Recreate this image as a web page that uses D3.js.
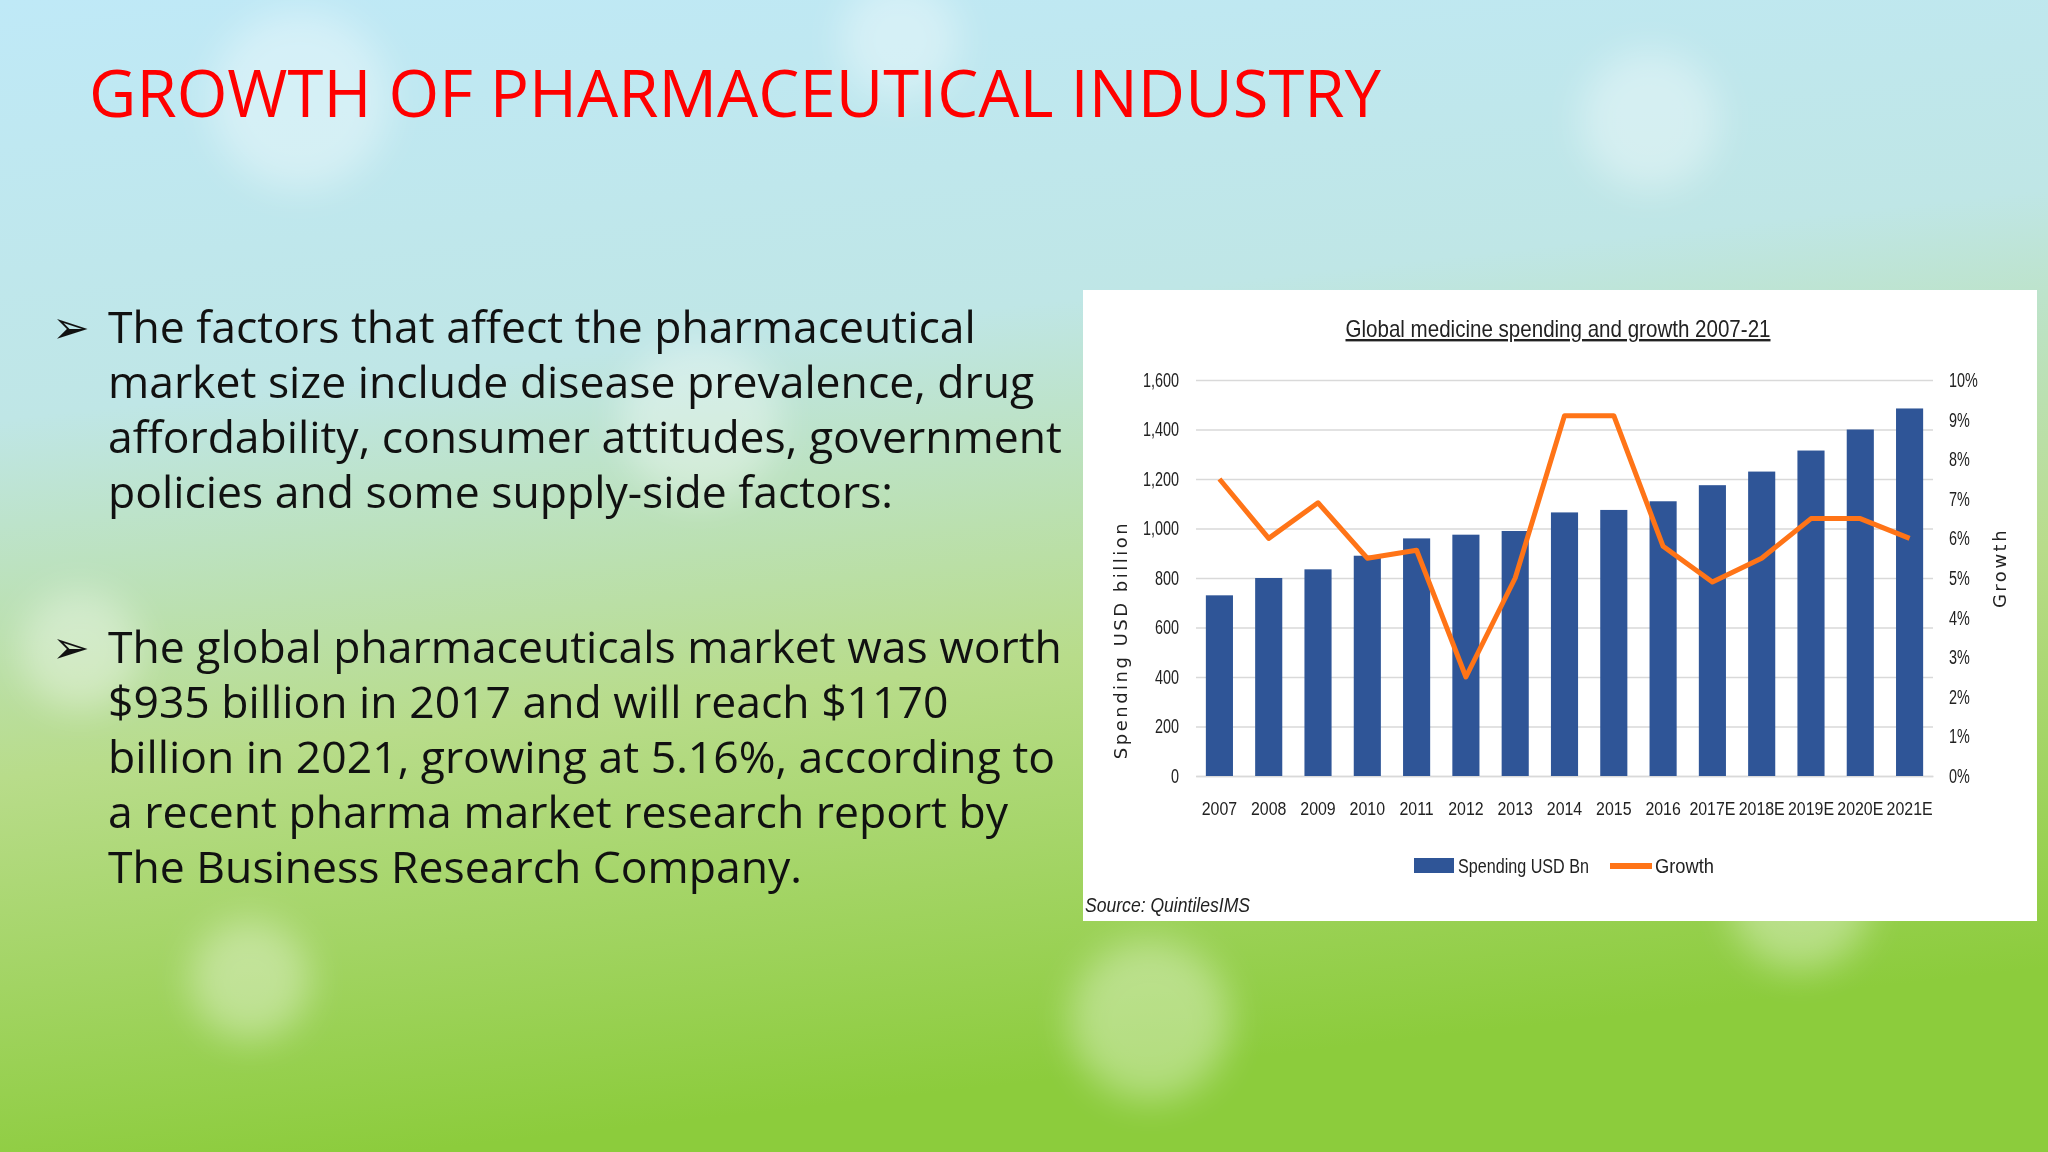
<!DOCTYPE html>
<meta charset="utf-8">
<style>
body{margin:0;overflow:hidden;}
.tick text{font-family:"Liberation Sans",sans-serif;font-size:20px;fill:#222;}
.bullet{font-family:"Open Sans",sans-serif;font-size:44.5px;fill:#111;}
</style>
<body>
<svg width="2048" height="1152"></svg>
<script src="https://d3js.org/d3.v7.min.js"></script>
<script>
var years = ["2007","2008","2009","2010","2011","2012","2013","2014","2015","2016","2017E","2018E","2019E","2020E","2021E"];
var spending = [730,800,835,890,960,975,990,1065,1075,1110,1175,1230,1315,1400,1485];
var growth = [7.5,6.0,6.9,5.5,5.7,2.5,5.0,9.1,9.1,5.8,4.9,5.5,6.5,6.5,6.0];
var leftTicks = [0,200,400,600,800,1000,1200,1400,1600];
var rightTicks = [0,1,2,3,4,5,6,7,8,9,10];

var svg = d3.select("svg");
var defs = svg.append("defs");
var bg = defs.append("linearGradient").attr("id","bg").attr("x1",0).attr("y1",0).attr("x2",0.2).attr("y2",1);
bg.append("stop").attr("offset","0%").attr("stop-color","#bfe9f7");
bg.append("stop").attr("offset","35%").attr("stop-color","#bfe6e6");
bg.append("stop").attr("offset","65%").attr("stop-color","#b8dc8a");
bg.append("stop").attr("offset","100%").attr("stop-color","#8ccc3c");
defs.append("filter").attr("id","blur").append("feGaussianBlur").attr("stdDeviation",18);
svg.append("rect").attr("width",2048).attr("height",1152).attr("fill","url(#bg)");
var blobs = [[300,100,90],[1650,120,70],[900,40,60],[250,980,60],[1150,1020,80],[1800,900,70],[80,650,60],[700,420,80]];
svg.append("g").attr("filter","url(#blur)").selectAll("circle").data(blobs).join("circle")
  .attr("cx",d=>d[0]).attr("cy",d=>d[1]).attr("r",d=>d[2]).attr("fill","#fff").attr("opacity",0.35);

svg.append("text").attr("x",89).attr("y",117)
  .style("font-family","'Open Sans',sans-serif").style("font-size","66px").style("fill","#ff0000")
  .attr("textLength",1292).attr("lengthAdjust","spacingAndGlyphs")
  .text("GROWTH OF PHARMACEUTICAL INDUSTRY");

var bullets = [
  {y:343, lines:["The factors that affect the pharmaceutical","market size include disease prevalence, drug","affordability, consumer attitudes, government","policies and some supply-side factors:"]},
  {y:663, lines:["The global pharmaceuticals market was worth","$935 billion in 2017 and will reach $1170","billion in 2021, growing at 5.16%, according to","a recent pharma market research report by","The Business Research Company."]}
];
bullets.forEach(function(b){
  svg.append("text").attr("x",52).attr("y",b.y).attr("class","bullet").text("➢");
  b.lines.forEach(function(l,i){
    svg.append("text").attr("class","bullet").attr("x",108).attr("y",b.y+i*55).text(l);
  });
});

function squeeze(sel,f){
  sel.each(function(){ var w=this.getComputedTextLength(); d3.select(this).attr("textLength",w*f).attr("lengthAdjust","spacingAndGlyphs"); });
}

// chart panel
svg.append("rect").attr("x",1083).attr("y",290).attr("width",954).attr("height",631).attr("fill","#fff");
var font = "'Liberation Sans',sans-serif";
svg.append("text").attr("x",1558).attr("y",337).attr("text-anchor","middle")
  .style("font-family",font).style("font-size","24px").style("fill","#222").style("text-decoration","underline")
  .attr("textLength",425).attr("lengthAdjust","spacingAndGlyphs")
  .text("Global medicine spending and growth 2007-21");

var x = d3.scaleBand().domain(years).range([1196,1933]).paddingInner(0.45).paddingOuter(0.2);
var y = d3.scaleLinear().domain([0,1600]).range([776,380]);
var y2 = d3.scaleLinear().domain([0,10]).range([776,380]);

svg.append("g").attr("transform","translate(1196,0)")
  .call(d3.axisLeft(y).tickValues(leftTicks).tickSize(-737).tickFormat(d3.format(",")).tickPadding(17))
  .call(g=>g.select(".domain").remove())
  .call(g=>g.selectAll(".tick line").attr("stroke","#d9d9d9").attr("stroke-width",1.5))
  .call(g=>squeeze(g.selectAll("text"),0.72));
svg.append("g").attr("transform","translate(1933,0)")
  .call(d3.axisRight(y2).tickValues(rightTicks).tickSize(0).tickFormat(d=>d+"%").tickPadding(16))
  .call(g=>g.select(".domain").remove())
  .call(g=>squeeze(g.selectAll("text"),0.72));
svg.append("g").attr("transform","translate(0,776)")
  .call(d3.axisBottom(x).tickSize(0).tickPadding(26))
  .call(g=>g.select(".domain").attr("stroke","#d9d9d9").attr("stroke-width",1.5))
  .call(g=>g.selectAll("text").style("font-size","18.5px"))
  .call(g=>squeeze(g.selectAll("text"),0.86));

svg.append("g").selectAll("rect").data(spending).join("rect")
  .attr("x",(d,i)=>x(years[i])).attr("width",x.bandwidth())
  .attr("y",d=>y(d)).attr("height",d=>776-y(d)).attr("fill","#2f5597");

svg.append("path").datum(growth)
  .attr("d",d3.line().x((d,i)=>x(years[i])+x.bandwidth()/2).y(d=>y2(d)))
  .attr("fill","none").attr("stroke","#ff7417").attr("stroke-width",5).attr("stroke-linejoin","round");

svg.append("text").attr("transform","translate(1127,640) rotate(-90)").attr("text-anchor","middle")
  .style("font-family","'DejaVu Sans',sans-serif").style("font-size","18px").style("letter-spacing","2.5px").style("fill","#222")
  .text("Spending USD billion");
svg.append("text").attr("transform","translate(2006,568) rotate(-90)").attr("text-anchor","middle")
  .style("font-family","'DejaVu Sans',sans-serif").style("font-size","18px").style("letter-spacing","2.5px").style("fill","#222")
  .text("Growth");

var lg = svg.append("g").style("font-family",font).style("font-size","21px").style("fill","#222");
lg.append("rect").attr("x",1414).attr("y",858).attr("width",40).attr("height",15).attr("fill","#2f5597");
lg.append("text").attr("x",1458).attr("y",873).attr("textLength",131).attr("lengthAdjust","spacingAndGlyphs").text("Spending USD Bn");
lg.append("line").attr("x1",1610).attr("x2",1652).attr("y1",866).attr("y2",866).attr("stroke","#ff7417").attr("stroke-width",6);
lg.append("text").attr("x",1655).attr("y",873).attr("textLength",59).attr("lengthAdjust","spacingAndGlyphs").text("Growth");

svg.append("text").attr("x",1085).attr("y",912)
  .style("font-family",font).style("font-size","20px").style("font-style","italic").style("fill","#222")
  .attr("textLength",165).attr("lengthAdjust","spacingAndGlyphs")
  .text("Source: QuintilesIMS");
</script>
</body>
</html>
